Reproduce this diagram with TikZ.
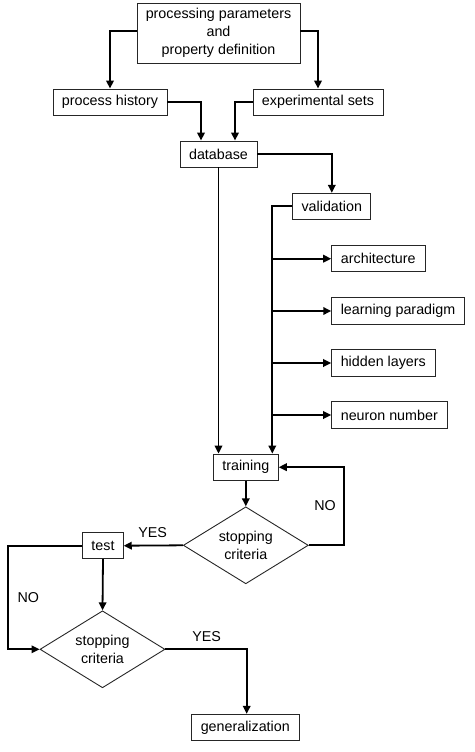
\documentclass[tikz,border=0pt]{standalone}
\usepackage{fontspec}
\setmainfont{Liberation Sans}
\usetikzlibrary{shapes.geometric,arrows.meta}
\begin{document}
\begin{tikzpicture}[x=1pt,y=-1pt,
  every node/.style={font=\fontsize{14.3}{17.7}\selectfont},
  box/.style={draw=black!85,line width=0.9pt,inner sep=0pt,align=center},
  dia/.style={draw=black!85,line width=0.9pt,shape=diamond,aspect=1.62,inner sep=0pt,minimum width=125pt,minimum height=77pt,align=center},
  arr/.style={line width=1.8pt,-{Triangle[length=8pt,width=7.5pt]}},
  lbl/.style={inner sep=0pt}]
\useasboundingbox (0,0) rectangle (474,752);
\node[box,minimum width=163pt,minimum height=60pt] (top) at (218.5,33) {processing parameters\\and\\property definition};
\node[box,minimum width=114pt,minimum height=26pt] (ph) at (110,102) {process history};
\node[box,minimum width=130pt,minimum height=26pt] (es) at (318,102) {experimental sets};
\node[box,minimum width=77pt,minimum height=26pt] (db) at (218.5,154) {database};
\node[box,minimum width=78pt,minimum height=26pt] (val) at (331.8,206.3) {validation};
\node[box,minimum width=93.3pt,minimum height=26pt] (arch) at (378.3,258.7) {architecture};
\node[box,minimum width=132.6pt,minimum height=26.6pt] (lp) at (398,311) {learning paradigm};
\node[box,minimum width=103.3pt,minimum height=26.6pt] (hl) at (383.3,363) {hidden layers};
\node[box,minimum width=115.3pt,minimum height=26.6pt] (nn) at (389.3,415) {neuron number};
\node[box,minimum width=65pt,minimum height=26.3pt] (tr) at (245.8,467.2) {training};
\node[dia] (d1) at (245.8,545.3) {stopping\\criteria};
\node[box,minimum width=40.6pt,minimum height=26pt] (te) at (103,545.7) {test};
\node[dia] (d2) at (102.5,649.3) {stopping\\criteria};
\node[box,minimum width=107.3pt,minimum height=26.4pt] (gen) at (245.3,727.5) {generalization};

\node[lbl] (no1) at (325,506) {NO};
\node[lbl] (yes1) at (152.7,532.7) {YES};
\node[lbl] (no2) at (28.3,598) {NO};
\node[lbl] (yes2) at (206.7,636.7) {YES};

\coordinate (dbl) at ([xshift=-17.5pt]db.north);
\coordinate (dbr) at ([xshift=16.5pt]db.north);
\coordinate (vx) at ([xshift=26.5pt]tr.north);
\coordinate (loopr) at (344.3,545.3);
\coordinate (loopl) at (8.3,545.7);

\draw[arr] ([yshift=2pt]top.west) -| (ph.north);
\draw[arr] ([yshift=2pt]top.east) -| (es.north);
\draw[arr] (ph.east) -| (dbl);
\draw[arr] (es.west) -| (dbr);
\draw[arr] (db.east) -| (val.north);
\draw[arr] (db.south) -- (db.south |- tr.north);
\draw[arr] (val.west) -| (vx);
\draw[arr] (vx |- arch.west) -- (arch.west);
\draw[arr] (vx |- lp.west) -- (lp.west);
\draw[arr] (vx |- hl.west) -- (hl.west);
\draw[arr] (vx |- nn.west) -- (nn.west);
\draw[arr] (tr.south) -- (d1.north);
\draw[arr] (d1.east) -- (loopr) |- (tr.east);
\draw[arr] (d1.west) -- (te.east);
\draw[arr] (te.west) -- (loopl) |- (d2.west);
\draw[arr] (te.south) -- (d2.north);
\draw[arr] (d2.east) -| ([xshift=1.4pt]gen.north);
\end{tikzpicture}
\end{document}
